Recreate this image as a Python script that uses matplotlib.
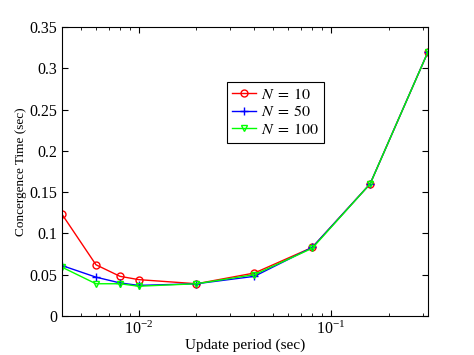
import matplotlib
matplotlib.use("Agg")
import matplotlib.pyplot as plt
from matplotlib.ticker import LogLocator, NullFormatter

update_period = [0.004, 0.006, 0.008, 0.01, 0.02, 0.04, 0.08, 0.16, 0.32]
conv_n10 = [0.123, 0.062, 0.048, 0.044, 0.039, 0.052, 0.083, 0.160, 0.320]
conv_n50 = [0.061, 0.047, 0.040, 0.037, 0.039, 0.048, 0.083, 0.160, 0.320]
conv_n100 = [0.059, 0.039, 0.039, 0.036, 0.039, 0.050, 0.082, 0.160, 0.320]
y_ticks = [0, 0.05, 0.1, 0.15, 0.2, 0.25, 0.3, 0.35]
y_tick_labels = ["0", "0.05", "0.1", "0.15", "0.2", "0.25", "0.3", "0.35"]

plt.rcParams["font.family"] = ["Liberation Serif", "DejaVu Serif"]
plt.rcParams["mathtext.fontset"] = "stix"

fig = plt.figure(figsize=(4.74, 3.55), dpi=100)
ax = fig.add_axes([0.131, 0.110, 0.772, 0.814])

ax.plot(update_period, conv_n10, color="red", marker="o", markersize=5,
        markerfacecolor="none", lw=1.0, label=r"$N\;=\;10$")
ax.plot(update_period, conv_n50, color="blue", marker="+", markersize=6,
        lw=1.0, label=r"$N\;=\;50$")
ax.plot(update_period, conv_n100, color="#00ff00", marker="v", markersize=5,
        markerfacecolor="none", lw=1.0, label=r"$N\;=\;100$")

ax.set_xscale("log")
ax.set_xlim(0.004, 0.32)
ax.set_ylim(0, 0.35)
ax.set_yticks(y_ticks)
ax.set_yticklabels(y_tick_labels)
ax.xaxis.set_minor_locator(LogLocator(base=10, subs=range(2, 10)))
ax.xaxis.set_minor_formatter(NullFormatter())

ax.tick_params(which="both", direction="in", top=True, right=True, labelsize=11.5)
ax.tick_params(which="major", length=4)
ax.tick_params(which="minor", length=2)

ax.set_xlabel("Update period (sec)", fontsize=11, labelpad=0)
ax.set_ylabel("Concergence Time (sec)", fontsize=9.5, labelpad=2)

leg = ax.legend(loc="upper left", bbox_to_anchor=(0.451, 0.81), fontsize=11.5,
                fancybox=False, edgecolor="black", framealpha=1,
                handlelength=1.5, handletextpad=0.3, borderpad=0.3,
                labelspacing=0.1, borderaxespad=0)
leg.get_frame().set_linewidth(0.8)

fig.savefig("out.png", dpi=100)
